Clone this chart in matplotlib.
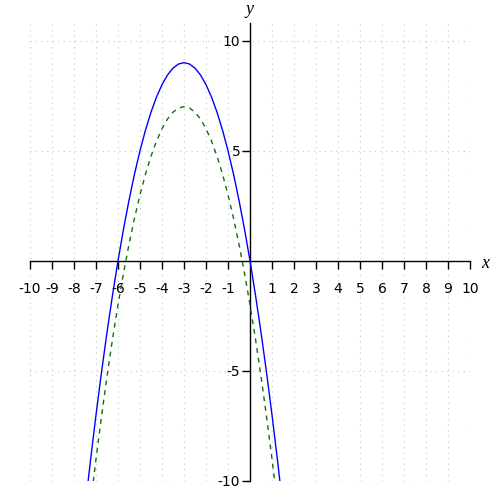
import matplotlib
matplotlib.use("Agg")
import matplotlib.pyplot as plt

plt.rcParams['axes.unicode_minus'] = False

# values
x_vals = [-7.5, -7.25, -7, -6.75, -6.5, -6.25, -6, -5.75, -5.5, -5.25,
          -5, -4.75, -4.5, -4.25, -4, -3.75, -3.5, -3.25, -3,
          -2.75, -2.5, -2.25, -2, -1.75, -1.5, -1.25, -1, -0.75,
          -0.5, -0.25, 0, 0.25, 0.5, 0.75, 1, 1.25, 1.5]
blue_y = [-11.25, -9.0625, -7, -5.0625, -3.25, -1.5625, 0, 1.4375, 2.75, 3.9375,
          5, 5.9375, 6.75, 7.4375, 8, 8.4375, 8.75, 8.9375, 9,
          8.9375, 8.75, 8.4375, 8, 7.4375, 6.75, 5.9375, 5, 3.9375,
          2.75, 1.4375, 0, -1.5625, -3.25, -5.0625, -7, -9.0625, -11.25]
green_y = [-13.25, -11.0625, -9, -7.0625, -5.25, -3.5625, -2, -0.5625, 0.75, 1.9375,
           3, 3.9375, 4.75, 5.4375, 6, 6.4375, 6.75, 6.9375, 7,
           6.9375, 6.75, 6.4375, 6, 5.4375, 4.75, 3.9375, 3, 1.9375,
           0.75, -0.5625, -2, -3.5625, -5.25, -7.0625, -9, -11.0625, -13.25]

x_ticks = [t for t in range(-10, 11) if t != 0]
y_ticks = [-10, -5, 5, 10]

fig = plt.figure(figsize=(5, 5), dpi=100)
ax = fig.add_axes([0.06, 0.038, 0.88, 0.916])

ax.plot(x_vals, blue_y, color='#0000ff', lw=1.0, zorder=3)
ax.plot(x_vals, green_y, color='#107010', lw=1.0, ls=(0, (3.5, 3.5)), zorder=3)

ax.set_xlim(-10, 10)
ax.set_ylim(-10, 10.8)

for side in ['top', 'right']:
    ax.spines[side].set_visible(False)
ax.spines['left'].set_position(('data', 0))
ax.spines['bottom'].set_position(('data', 0))
ax.spines['bottom'].set_bounds(-10, 10)
ax.spines['left'].set_linewidth(1.0)
ax.spines['bottom'].set_linewidth(1.0)

ax.set_xticks(x_ticks)
ax.set_xticklabels([str(t) for t in x_ticks])
ax.set_yticks(y_ticks)
ax.set_yticklabels([str(t) for t in y_ticks])
ax.tick_params(axis='x', direction='out', length=6, width=1, pad=9, labelsize=10)
ax.tick_params(axis='y', direction='out', length=6, width=1, pad=1, labelsize=10)

# grid: every integer vertically, major y ticks horizontally
for t in range(-10, 11):
    ax.axvline(t, color='#c8c8c8', lw=0.8, ls=(0, (1, 4)), zorder=0)
for t in y_ticks:
    ax.axhline(t, color='#c8c8c8', lw=0.8, ls=(0, (1, 4)), zorder=0)

ax.text(10.7, -0.1, 'x', fontsize=13, family='Liberation Serif', style='italic',
        ha='center', va='center', clip_on=False)
ax.text(0, 11.4, 'y', fontsize=13, family='Liberation Serif', style='italic',
        ha='center', va='center', clip_on=False)

fig.savefig('out.png', dpi=100)
